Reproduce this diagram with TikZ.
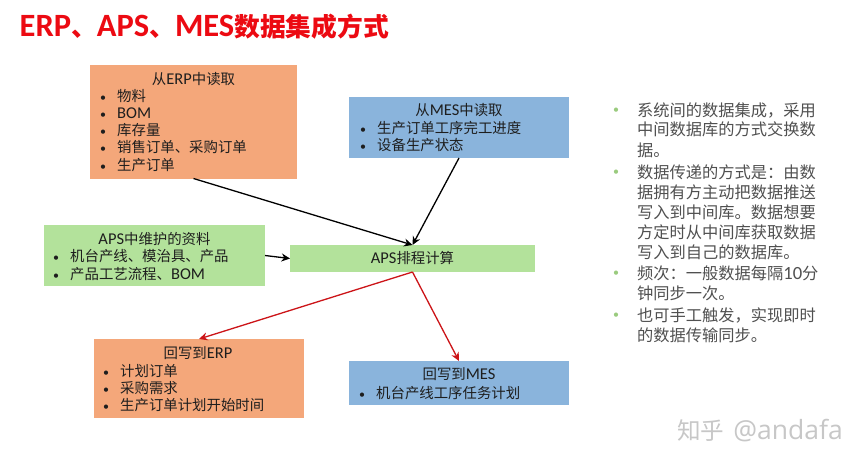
\documentclass[tikz,border=0pt]{standalone}
\usepackage{fontspec}
\setmainfont{Carlito}
\newfontfamily\cjk[Scale=0.873]{Noto Sans CJK SC}
\newfontfamily\wm{Open Sans}
\newcommand{\C}[1]{{\cjk #1}}
\usetikzlibrary{arrows.meta}
\definecolor{orangebox}{HTML}{F4A77A}
\definecolor{bluebox}{HTML}{8AB4DC}
\definecolor{greenbox}{HTML}{B3E29B}
\definecolor{titlered}{HTML}{EC0A12}
\definecolor{arrowred}{HTML}{CC1418}
\definecolor{sidegrey}{HTML}{505050}
\definecolor{sidebullet}{HTML}{9ACB7E}
\definecolor{inktext}{HTML}{1E1E1E}
\tikzset{
  panel/.style={inner sep=0pt,outer sep=0pt,anchor=north west},
  head/.style={inner sep=0pt,text=inktext,font=\fontsize{16.5}{18}\selectfont,text height=14pt,text depth=3pt},
  line/.style={inner sep=0pt,anchor=west,text=inktext,font=\fontsize{16.5}{18}\selectfont,text height=14pt,text depth=3pt},
  side/.style={inner sep=0pt,anchor=west,text=sidegrey,font=\fontsize{18.6}{20}\selectfont,text height=15pt,text depth=3pt},
  sidedot/.style={inner sep=0pt,anchor=center,text=sidebullet,font=\fontsize{12}{14}\selectfont},
  blackarrow/.style={draw=black,line width=1.3pt,-{Stealth[length=8.5pt,width=8pt]}},
  redarrow/.style={draw=arrowred,line width=1.3pt,-{Stealth[length=8.5pt,width=8pt]}}
}
\newcommand{\bul}[1]{\makebox[17pt][l]{\fontsize{12}{12}\selectfont •}#1}
\begin{document}
\begin{tikzpicture}[x=1pt,y=-1pt]
\useasboundingbox (0,0) rectangle (865,464);
\fill[white] (0,0) rectangle (865,464);
% title
\node[inner sep=0pt,anchor=west,text=titlered,font=\fontsize{32.5}{34}\selectfont\bfseries] (title) at (19.5,27)
  {ERP{\fontsize{29.5}{34}\selectfont\cjk\bfseries 、}APS{\fontsize{29.5}{34}\selectfont\cjk\bfseries 、}MES{\fontsize{29.5}{34}\selectfont\cjk\bfseries 数据集成方式}};
% boxes
\node[panel,fill=orangebox,minimum width=207pt,minimum height=114pt] (erpread) at (90,64.5) {};
\node[panel,fill=bluebox,minimum width=220pt,minimum height=61pt] (mesread) at (349,97) {};
\node[panel,fill=greenbox,minimum width=221pt,minimum height=61pt] (apsdata) at (44,225) {};
\node[panel,fill=greenbox,minimum width=245pt,minimum height=27pt] (calc) at (290,245) {};
\node[panel,fill=orangebox,minimum width=210pt,minimum height=79pt] (erpback) at (94,339) {};
\node[panel,fill=bluebox,minimum width=220pt,minimum height=44pt] (mesback) at (349,361) {};
% connectors
\draw[blackarrow] (erpread.south) -- (calc.north);
\draw[blackarrow] (mesread.south) -- (calc.north);
\draw[blackarrow] (apsdata.east) -- (calc.west);
\draw[redarrow] (calc.south) -- (erpback.north);
\draw[redarrow] (calc.south) -- (mesback.north);
% ERP read text
\node[head] (t1) at (193.5,79) {\C{从}ERP\C{中读取}};
\node[line] (t1a) at (100,96) {\bul{\C{物料}}};
\node[line] (t1b) at (100,113) {\bul{BOM}};
\node[line] (t1c) at (100,130) {\bul{\C{库存量}}};
\node[line] (t1d) at (100,147) {\bul{\C{销售订单、采购订单}}};
\node[line] (t1e) at (100,165) {\bul{\C{生产订单}}};
% MES read text
\node[head] (t2) at (459,110) {\C{从}MES\C{中读取}};
\node[line] (t2a) at (360,128) {\bul{\C{生产订单工序完工进度}}};
\node[line] (t2b) at (360,145) {\bul{\C{设备生产状态}}};
% APS data text
\node[head] (t3) at (154.5,239) {APS\C{中维护的资料}};
\node[line] (t3a) at (53,256) {\bul{\C{机台产线、模治具、产品}}};
\node[line] (t3b) at (53,274) {\bul{\C{产品工艺流程、}BOM}};
% calc text
\node[head] (t4) at (412.5,258) {APS\C{排程计算}};
% ERP back text
\node[head] (t5) at (198,353) {\C{回写到}ERP};
\node[line] (t5a) at (103,371) {\bul{\C{计划订单}}};
\node[line] (t5b) at (103,388) {\bul{\C{采购需求}}};
\node[line] (t5c) at (103,405) {\bul{\C{生产订单计划开始时间}}};
% MES back text
\node[head] (t6) at (459,374) {\C{回写到}MES};
\node[line] (t6a) at (359,393) {\bul{\C{机台产线工序任务计划}}};
% side list
\node[sidedot] (d1) at (616,111) {•};
\node[side] (s1) at (637,110) {\C{系统间的数据集成，采用}};
\node[side] (s2) at (637,129.5) {\C{中间数据库的方式交换数}};
\node[side] (s3) at (637,150) {\C{据。}};
\node[sidedot] (d2) at (616,173) {•};
\node[side] (s4) at (637,172) {\C{数据传递的方式是：由数}};
\node[side] (s5) at (637,192.5) {\C{据拥有方主动把数据推送}};
\node[side] (s6) at (637,212) {\C{写入到中间库。数据想要}};
\node[side] (s7) at (637,232) {\C{方定时从中间库获取数据}};
\node[side] (s8) at (637,252) {\C{写入到自己的数据库。}};
\node[sidedot] (d3) at (616,274) {•};
\node[side] (s9) at (637,273) {\C{频次：一般数据每隔}10\C{分}};
\node[side] (s10) at (637,293) {\C{钟同步一次。}};
\node[sidedot] (d4) at (616,316) {•};
\node[side] (s11) at (637,315) {\C{也可手工触发，实现即时}};
\node[side] (s12) at (637,335) {\C{的数据传输同步。}};
% watermark
\node[inner sep=0pt,anchor=west,text=black!22,font=\fontsize{27}{28}\selectfont] (mark) at (677,431) {\C{知乎}\hspace{9pt}{\wm\fontsize{26.5}{28}\selectfont @andafa}};
\end{tikzpicture}
\end{document}
